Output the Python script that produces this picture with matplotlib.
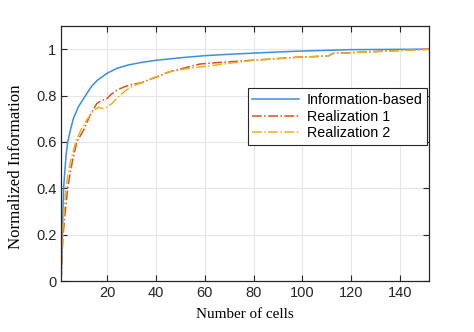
import numpy as np
import matplotlib.pyplot as plt

# curve samples (number of cells, normalized information)
info_x = [1, 1.5, 2, 3, 3.7, 5, 6, 8, 11, 13.5, 16, 20, 24, 28.6, 34, 40, 50, 60, 70, 80, 90, 100, 110, 120, 135, 152]
info_y = [0.0, 0.2, 0.4, 0.54, 0.6, 0.66, 0.70, 0.75, 0.80, 0.84, 0.867, 0.897, 0.918, 0.932, 0.943, 0.952, 0.963, 0.972, 0.978, 0.983, 0.988, 0.992, 0.995, 0.998, 0.999, 1.0]

real1_x = [1, 1.3, 1.8, 2.7, 3.7, 5.1, 7.4, 10.2, 12.9, 15.6, 17.5, 19.8, 21.5, 23.9, 27, 30, 34, 38, 41, 43.7, 46, 52, 58, 65, 72, 79, 85, 92, 99, 105, 111, 112.5, 120, 128, 136, 144, 152]
real1_y = [0.0, 0.1, 0.2, 0.3, 0.4, 0.49, 0.6, 0.65, 0.715, 0.765, 0.778, 0.787, 0.805, 0.823, 0.838, 0.848, 0.855, 0.872, 0.883, 0.896, 0.904, 0.92, 0.936, 0.942, 0.947, 0.952, 0.956, 0.961, 0.966, 0.968, 0.972, 0.982, 0.985, 0.989, 0.993, 0.996, 1.0]

real2_x = [1, 1.2, 1.5, 2.2, 2.9, 4.5, 7, 9, 11.5, 14, 16.3, 18.4, 20, 21.8, 24, 26.6, 29, 31.4, 35, 38, 41, 43.7, 46, 52, 58, 65, 72, 79, 85, 92, 99, 105, 111, 112.5, 120, 128, 136, 144, 152]
real2_y = [0.0, 0.1, 0.2, 0.3, 0.4, 0.5, 0.6, 0.65, 0.695, 0.73, 0.75, 0.743, 0.752, 0.765, 0.79, 0.815, 0.832, 0.845, 0.86, 0.873, 0.885, 0.896, 0.904, 0.915, 0.923, 0.932, 0.942, 0.951, 0.956, 0.961, 0.966, 0.968, 0.972, 0.981, 0.984, 0.988, 0.992, 0.996, 1.0]

x_ticks = [20, 40, 60, 80, 100, 120, 140]
y_ticks = [0, 0.2, 0.4, 0.6, 0.8, 1]

plt.rcParams['font.family'] = ['Liberation Sans', 'DejaVu Sans']

fig = plt.figure(figsize=(4.74, 3.32), dpi=100)
ax = fig.add_axes([0.129, 0.1536, 0.776, 0.7681])

ax.plot(info_x, info_y, '-', color='#3c8ee0', linewidth=1.1, label='Information-based')
ax.plot(real1_x, real1_y, '-.', color='#d95319', linewidth=1.1, label='Realization 1')
ax.plot(real2_x, real2_y, '-.', color='#edb120', linewidth=1.1, label='Realization 2')

ax.set_xlim(1, 152)
ax.set_ylim(0, 1.1)
ax.set_xticks(x_ticks)
ax.set_yticks(y_ticks)
ax.set_yticklabels(['0', '0.2', '0.4', '0.6', '0.8', '1'])
ax.tick_params(direction='in', top=True, right=True, length=4, width=0.8,
               labelsize=10.5, colors='#262626')
ax.grid(True, color='#e6e6e6', linewidth=0.8)
ax.set_axisbelow(True)
for s in ax.spines.values():
    s.set_color('#262626')
    s.set_linewidth(0.9)

ax.set_xlabel('Number of cells', family='Liberation Serif', fontsize=10.9, labelpad=6)
ax.set_ylabel('Normalized Information', family='Liberation Serif', fontsize=12.2)
ax.yaxis.set_label_coords(-0.1, 0.45)

leg = ax.legend(loc='upper right', bbox_to_anchor=(0.994, 0.755), fontsize=10.3,
                handlelength=3.3, borderaxespad=0, fancybox=False, framealpha=1,
                edgecolor='#262626', borderpad=0.3, labelspacing=0.2, handletextpad=0.5)
leg.get_frame().set_linewidth(0.8)

fig.savefig('out.png', dpi=100)
